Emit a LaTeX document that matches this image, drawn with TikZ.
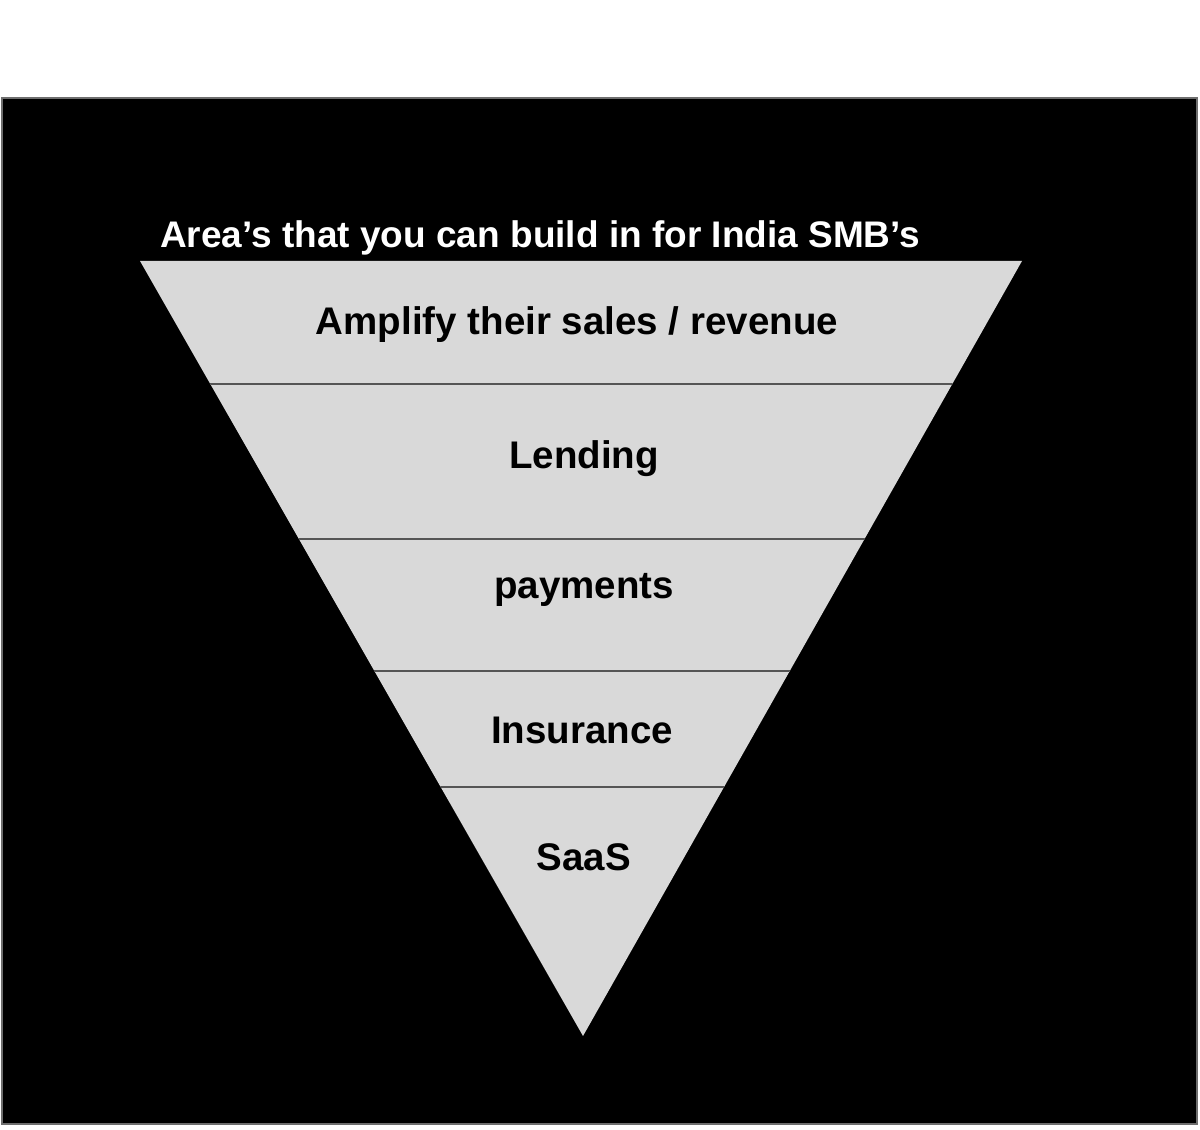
\documentclass[tikz,border=0pt]{standalone}
\usepackage{fontspec}
\setmainfont{Liberation Sans}
\definecolor{funnelfill}{HTML}{D9D9D9}
\definecolor{divider}{HTML}{555555}
\definecolor{frame}{HTML}{6E6E6E}
\tikzset{
  lbl/.style={font=\bfseries\fontsize{38.5}{42}\selectfont, text=black, inner sep=0pt, anchor=base},
  ttl/.style={font=\bfseries\fontsize{37}{40}\selectfont, text=white, inner sep=0pt, anchor=base west},
  divline/.style={draw=divider, line width=1.2pt}
}
\begin{document}
\begin{tikzpicture}[x=1pt,y=1pt]
\useasboundingbox (0,0) rectangle (1200,1130);
\fill[white] (0,0) rectangle (1200,1130);
\draw[fill=black, draw=frame, line width=1.5pt] (2,6) rectangle (1197,1032);
\coordinate (tl) at (140,869);
\coordinate (tr) at (1022,869);
\coordinate (ap) at (583,94);
\fill[funnelfill] (tl) -- (tr) -- (ap) -- cycle;
\begin{scope}
\clip (tl) -- (tr) -- (ap) -- cycle;
\draw[divline] (100,746) -- (1100,746);
\draw[divline] (100,591) -- (1100,591);
\draw[divline] (100,459) -- (1100,459);
\draw[divline] (100,343) -- (1100,343);
\end{scope}
\node[ttl] (title) at (160,882) {Area’s that you can build in for India SMB’s};
\node[lbl] (amp) at (577,795) {Amplify their sales / revenue};
\node[lbl] (lend) at (584,661) {Lending};
\node[lbl] (pay) at (584,531) {payments};
\node[lbl] (ins) at (582,386) {Insurance};
\node[lbl] (saas) at (584,259) {SaaS};
\end{tikzpicture}
\end{document}
